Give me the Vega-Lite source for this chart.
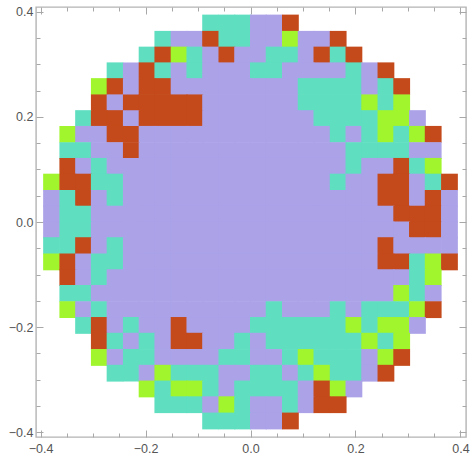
{"$schema":"https://vega.github.io/schema/vega-lite/v6.json","width":430,"height":430,"autosize":"none","padding":{"left":36,"top":7,"right":8,"bottom":20},"background":"white","config":{"view":{"stroke":"#b4b4b4","strokeWidth":1.4},"axis":{"grid":false,"domain":false,"title":null,"tickColor":"#a8a8a8","tickWidth":1,"labelFont":"Liberation Sans","labelFontSize":12.5,"labelColor":"#555555"}},"resolve":{"axis":{"x":"independent","y":"independent"}},"layer":[{"data":{"values":[
{"x":-0.076,"y":0.379,"k":"T"},{"x":-0.045,"y":0.379,"k":"T"},{"x":-0.015,"y":0.379,"k":"T"},{"x":0.015,"y":0.379,"k":"L"},{"x":0.045,"y":0.379,"k":"L"},{"x":0.076,"y":0.379,"k":"R"},
{"x":-0.167,"y":0.348,"k":"T"},{"x":-0.136,"y":0.348,"k":"L"},{"x":-0.106,"y":0.348,"k":"L"},{"x":-0.076,"y":0.348,"k":"R"},{"x":-0.045,"y":0.348,"k":"T"},{"x":-0.015,"y":0.348,"k":"T"},{"x":0.015,"y":0.348,"k":"L"},{"x":0.045,"y":0.348,"k":"L"},{"x":0.076,"y":0.348,"k":"G"},{"x":0.106,"y":0.348,"k":"L"},{"x":0.136,"y":0.348,"k":"L"},{"x":0.167,"y":0.348,"k":"R"},
{"x":-0.197,"y":0.318,"k":"T"},{"x":-0.167,"y":0.318,"k":"R"},{"x":-0.136,"y":0.318,"k":"G"},{"x":-0.106,"y":0.318,"k":"T"},{"x":-0.076,"y":0.318,"k":"L"},{"x":-0.045,"y":0.318,"k":"R"},{"x":-0.015,"y":0.318,"k":"L"},{"x":0.015,"y":0.318,"k":"L"},{"x":0.045,"y":0.318,"k":"T"},{"x":0.076,"y":0.318,"k":"T"},{"x":0.106,"y":0.318,"k":"L"},{"x":0.136,"y":0.318,"k":"R"},{"x":0.167,"y":0.318,"k":"T"},{"x":0.197,"y":0.318,"k":"R"},
{"x":-0.258,"y":0.288,"k":"T"},{"x":-0.227,"y":0.288,"k":"L"},{"x":-0.197,"y":0.288,"k":"R"},{"x":-0.167,"y":0.288,"k":"T"},{"x":-0.136,"y":0.288,"k":"L"},{"x":-0.106,"y":0.288,"k":"T"},{"x":-0.076,"y":0.288,"k":"L"},{"x":-0.045,"y":0.288,"k":"L"},{"x":-0.015,"y":0.288,"k":"L"},{"x":0.015,"y":0.288,"k":"T"},{"x":0.045,"y":0.288,"k":"T"},{"x":0.076,"y":0.288,"k":"L"},{"x":0.106,"y":0.288,"k":"L"},{"x":0.136,"y":0.288,"k":"L"},{"x":0.167,"y":0.288,"k":"L"},{"x":0.197,"y":0.288,"k":"T"},{"x":0.227,"y":0.288,"k":"L"},{"x":0.258,"y":0.288,"k":"R"},
{"x":-0.288,"y":0.258,"k":"G"},{"x":-0.258,"y":0.258,"k":"R"},{"x":-0.227,"y":0.258,"k":"L"},{"x":-0.197,"y":0.258,"k":"R"},{"x":-0.167,"y":0.258,"k":"R"},{"x":-0.136,"y":0.258,"k":"L"},{"x":-0.106,"y":0.258,"k":"L"},{"x":-0.076,"y":0.258,"k":"L"},{"x":-0.045,"y":0.258,"k":"L"},{"x":-0.015,"y":0.258,"k":"L"},{"x":0.015,"y":0.258,"k":"L"},{"x":0.045,"y":0.258,"k":"L"},{"x":0.076,"y":0.258,"k":"L"},{"x":0.106,"y":0.258,"k":"T"},{"x":0.136,"y":0.258,"k":"T"},{"x":0.167,"y":0.258,"k":"T"},{"x":0.197,"y":0.258,"k":"T"},{"x":0.227,"y":0.258,"k":"L"},{"x":0.258,"y":0.258,"k":"T"},{"x":0.288,"y":0.258,"k":"R"},
{"x":-0.288,"y":0.227,"k":"R"},{"x":-0.258,"y":0.227,"k":"L"},{"x":-0.227,"y":0.227,"k":"R"},{"x":-0.197,"y":0.227,"k":"R"},{"x":-0.167,"y":0.227,"k":"R"},{"x":-0.136,"y":0.227,"k":"R"},{"x":-0.106,"y":0.227,"k":"R"},{"x":-0.076,"y":0.227,"k":"L"},{"x":-0.045,"y":0.227,"k":"L"},{"x":-0.015,"y":0.227,"k":"L"},{"x":0.015,"y":0.227,"k":"L"},{"x":0.045,"y":0.227,"k":"L"},{"x":0.076,"y":0.227,"k":"L"},{"x":0.106,"y":0.227,"k":"T"},{"x":0.136,"y":0.227,"k":"T"},{"x":0.167,"y":0.227,"k":"T"},{"x":0.197,"y":0.227,"k":"T"},{"x":0.227,"y":0.227,"k":"G"},{"x":0.258,"y":0.227,"k":"T"},{"x":0.288,"y":0.227,"k":"G"},
{"x":-0.318,"y":0.197,"k":"T"},{"x":-0.288,"y":0.197,"k":"R"},{"x":-0.258,"y":0.197,"k":"R"},{"x":-0.227,"y":0.197,"k":"L"},{"x":-0.197,"y":0.197,"k":"R"},{"x":-0.167,"y":0.197,"k":"R"},{"x":-0.136,"y":0.197,"k":"R"},{"x":-0.106,"y":0.197,"k":"R"},{"x":-0.076,"y":0.197,"k":"L"},{"x":-0.045,"y":0.197,"k":"L"},{"x":-0.015,"y":0.197,"k":"L"},{"x":0.015,"y":0.197,"k":"L"},{"x":0.045,"y":0.197,"k":"L"},{"x":0.076,"y":0.197,"k":"L"},{"x":0.106,"y":0.197,"k":"L"},{"x":0.136,"y":0.197,"k":"T"},{"x":0.167,"y":0.197,"k":"T"},{"x":0.197,"y":0.197,"k":"T"},{"x":0.227,"y":0.197,"k":"T"},{"x":0.258,"y":0.197,"k":"G"},{"x":0.288,"y":0.197,"k":"G"},{"x":0.318,"y":0.197,"k":"L"},
{"x":-0.348,"y":0.167,"k":"G"},{"x":-0.318,"y":0.167,"k":"L"},{"x":-0.288,"y":0.167,"k":"L"},{"x":-0.258,"y":0.167,"k":"R"},{"x":-0.227,"y":0.167,"k":"R"},{"x":-0.197,"y":0.167,"k":"L"},{"x":-0.167,"y":0.167,"k":"L"},{"x":-0.136,"y":0.167,"k":"L"},{"x":-0.106,"y":0.167,"k":"L"},{"x":-0.076,"y":0.167,"k":"L"},{"x":-0.045,"y":0.167,"k":"L"},{"x":-0.015,"y":0.167,"k":"L"},{"x":0.015,"y":0.167,"k":"L"},{"x":0.045,"y":0.167,"k":"L"},{"x":0.076,"y":0.167,"k":"L"},{"x":0.106,"y":0.167,"k":"L"},{"x":0.136,"y":0.167,"k":"L"},{"x":0.167,"y":0.167,"k":"T"},{"x":0.197,"y":0.167,"k":"L"},{"x":0.227,"y":0.167,"k":"T"},{"x":0.258,"y":0.167,"k":"G"},{"x":0.288,"y":0.167,"k":"T"},{"x":0.318,"y":0.167,"k":"G"},{"x":0.348,"y":0.167,"k":"R"},
{"x":-0.348,"y":0.136,"k":"T"},{"x":-0.318,"y":0.136,"k":"T"},{"x":-0.288,"y":0.136,"k":"L"},{"x":-0.258,"y":0.136,"k":"L"},{"x":-0.227,"y":0.136,"k":"R"},{"x":-0.197,"y":0.136,"k":"L"},{"x":-0.167,"y":0.136,"k":"L"},{"x":-0.136,"y":0.136,"k":"L"},{"x":-0.106,"y":0.136,"k":"L"},{"x":-0.076,"y":0.136,"k":"L"},{"x":-0.045,"y":0.136,"k":"L"},{"x":-0.015,"y":0.136,"k":"L"},{"x":0.015,"y":0.136,"k":"L"},{"x":0.045,"y":0.136,"k":"L"},{"x":0.076,"y":0.136,"k":"L"},{"x":0.106,"y":0.136,"k":"L"},{"x":0.136,"y":0.136,"k":"L"},{"x":0.167,"y":0.136,"k":"L"},{"x":0.197,"y":0.136,"k":"T"},{"x":0.227,"y":0.136,"k":"T"},{"x":0.258,"y":0.136,"k":"T"},{"x":0.288,"y":0.136,"k":"T"},{"x":0.318,"y":0.136,"k":"L"},{"x":0.348,"y":0.136,"k":"L"},
{"x":-0.348,"y":0.106,"k":"R"},{"x":-0.318,"y":0.106,"k":"L"},{"x":-0.288,"y":0.106,"k":"T"},{"x":-0.258,"y":0.106,"k":"L"},{"x":-0.227,"y":0.106,"k":"L"},{"x":-0.197,"y":0.106,"k":"L"},{"x":-0.167,"y":0.106,"k":"L"},{"x":-0.136,"y":0.106,"k":"L"},{"x":-0.106,"y":0.106,"k":"L"},{"x":-0.076,"y":0.106,"k":"L"},{"x":-0.045,"y":0.106,"k":"L"},{"x":-0.015,"y":0.106,"k":"L"},{"x":0.015,"y":0.106,"k":"L"},{"x":0.045,"y":0.106,"k":"L"},{"x":0.076,"y":0.106,"k":"L"},{"x":0.106,"y":0.106,"k":"L"},{"x":0.136,"y":0.106,"k":"L"},{"x":0.167,"y":0.106,"k":"L"},{"x":0.197,"y":0.106,"k":"T"},{"x":0.227,"y":0.106,"k":"L"},{"x":0.258,"y":0.106,"k":"L"},{"x":0.288,"y":0.106,"k":"R"},{"x":0.318,"y":0.106,"k":"T"},{"x":0.348,"y":0.106,"k":"G"},
{"x":-0.379,"y":0.076,"k":"G"},{"x":-0.348,"y":0.076,"k":"R"},{"x":-0.318,"y":0.076,"k":"R"},{"x":-0.288,"y":0.076,"k":"T"},{"x":-0.258,"y":0.076,"k":"T"},{"x":-0.227,"y":0.076,"k":"L"},{"x":-0.197,"y":0.076,"k":"L"},{"x":-0.167,"y":0.076,"k":"L"},{"x":-0.136,"y":0.076,"k":"L"},{"x":-0.106,"y":0.076,"k":"L"},{"x":-0.076,"y":0.076,"k":"L"},{"x":-0.045,"y":0.076,"k":"L"},{"x":-0.015,"y":0.076,"k":"L"},{"x":0.015,"y":0.076,"k":"L"},{"x":0.045,"y":0.076,"k":"L"},{"x":0.076,"y":0.076,"k":"L"},{"x":0.106,"y":0.076,"k":"L"},{"x":0.136,"y":0.076,"k":"L"},{"x":0.167,"y":0.076,"k":"T"},{"x":0.197,"y":0.076,"k":"L"},{"x":0.227,"y":0.076,"k":"L"},{"x":0.258,"y":0.076,"k":"R"},{"x":0.288,"y":0.076,"k":"R"},{"x":0.318,"y":0.076,"k":"L"},{"x":0.348,"y":0.076,"k":"T"},{"x":0.379,"y":0.076,"k":"R"},
{"x":-0.379,"y":0.045,"k":"L"},{"x":-0.348,"y":0.045,"k":"T"},{"x":-0.318,"y":0.045,"k":"R"},{"x":-0.288,"y":0.045,"k":"L"},{"x":-0.258,"y":0.045,"k":"T"},{"x":-0.227,"y":0.045,"k":"L"},{"x":-0.197,"y":0.045,"k":"L"},{"x":-0.167,"y":0.045,"k":"L"},{"x":-0.136,"y":0.045,"k":"L"},{"x":-0.106,"y":0.045,"k":"L"},{"x":-0.076,"y":0.045,"k":"L"},{"x":-0.045,"y":0.045,"k":"L"},{"x":-0.015,"y":0.045,"k":"L"},{"x":0.015,"y":0.045,"k":"L"},{"x":0.045,"y":0.045,"k":"L"},{"x":0.076,"y":0.045,"k":"L"},{"x":0.106,"y":0.045,"k":"L"},{"x":0.136,"y":0.045,"k":"L"},{"x":0.167,"y":0.045,"k":"L"},{"x":0.197,"y":0.045,"k":"L"},{"x":0.227,"y":0.045,"k":"L"},{"x":0.258,"y":0.045,"k":"R"},{"x":0.288,"y":0.045,"k":"R"},{"x":0.318,"y":0.045,"k":"L"},{"x":0.348,"y":0.045,"k":"R"},{"x":0.379,"y":0.045,"k":"L"},
{"x":-0.379,"y":0.015,"k":"L"},{"x":-0.348,"y":0.015,"k":"T"},{"x":-0.318,"y":0.015,"k":"T"},{"x":-0.288,"y":0.015,"k":"L"},{"x":-0.258,"y":0.015,"k":"L"},{"x":-0.227,"y":0.015,"k":"L"},{"x":-0.197,"y":0.015,"k":"L"},{"x":-0.167,"y":0.015,"k":"L"},{"x":-0.136,"y":0.015,"k":"L"},{"x":-0.106,"y":0.015,"k":"L"},{"x":-0.076,"y":0.015,"k":"L"},{"x":-0.045,"y":0.015,"k":"L"},{"x":-0.015,"y":0.015,"k":"L"},{"x":0.015,"y":0.015,"k":"L"},{"x":0.045,"y":0.015,"k":"L"},{"x":0.076,"y":0.015,"k":"L"},{"x":0.106,"y":0.015,"k":"L"},{"x":0.136,"y":0.015,"k":"L"},{"x":0.167,"y":0.015,"k":"L"},{"x":0.197,"y":0.015,"k":"L"},{"x":0.227,"y":0.015,"k":"L"},{"x":0.258,"y":0.015,"k":"L"},{"x":0.288,"y":0.015,"k":"R"},{"x":0.318,"y":0.015,"k":"R"},{"x":0.348,"y":0.015,"k":"R"},{"x":0.379,"y":0.015,"k":"L"},
{"x":-0.379,"y":-0.015,"k":"L"},{"x":-0.348,"y":-0.015,"k":"T"},{"x":-0.318,"y":-0.015,"k":"T"},{"x":-0.288,"y":-0.015,"k":"L"},{"x":-0.258,"y":-0.015,"k":"L"},{"x":-0.227,"y":-0.015,"k":"L"},{"x":-0.197,"y":-0.015,"k":"L"},{"x":-0.167,"y":-0.015,"k":"L"},{"x":-0.136,"y":-0.015,"k":"L"},{"x":-0.106,"y":-0.015,"k":"L"},{"x":-0.076,"y":-0.015,"k":"L"},{"x":-0.045,"y":-0.015,"k":"L"},{"x":-0.015,"y":-0.015,"k":"L"},{"x":0.015,"y":-0.015,"k":"L"},{"x":0.045,"y":-0.015,"k":"L"},{"x":0.076,"y":-0.015,"k":"L"},{"x":0.106,"y":-0.015,"k":"L"},{"x":0.136,"y":-0.015,"k":"L"},{"x":0.167,"y":-0.015,"k":"L"},{"x":0.197,"y":-0.015,"k":"L"},{"x":0.227,"y":-0.015,"k":"L"},{"x":0.258,"y":-0.015,"k":"L"},{"x":0.288,"y":-0.015,"k":"L"},{"x":0.318,"y":-0.015,"k":"R"},{"x":0.348,"y":-0.015,"k":"R"},{"x":0.379,"y":-0.015,"k":"L"},
{"x":-0.379,"y":-0.045,"k":"T"},{"x":-0.348,"y":-0.045,"k":"T"},{"x":-0.318,"y":-0.045,"k":"R"},{"x":-0.288,"y":-0.045,"k":"L"},{"x":-0.258,"y":-0.045,"k":"T"},{"x":-0.227,"y":-0.045,"k":"L"},{"x":-0.197,"y":-0.045,"k":"L"},{"x":-0.167,"y":-0.045,"k":"L"},{"x":-0.136,"y":-0.045,"k":"L"},{"x":-0.106,"y":-0.045,"k":"L"},{"x":-0.076,"y":-0.045,"k":"L"},{"x":-0.045,"y":-0.045,"k":"L"},{"x":-0.015,"y":-0.045,"k":"L"},{"x":0.015,"y":-0.045,"k":"L"},{"x":0.045,"y":-0.045,"k":"L"},{"x":0.076,"y":-0.045,"k":"L"},{"x":0.106,"y":-0.045,"k":"L"},{"x":0.136,"y":-0.045,"k":"L"},{"x":0.167,"y":-0.045,"k":"L"},{"x":0.197,"y":-0.045,"k":"L"},{"x":0.227,"y":-0.045,"k":"L"},{"x":0.258,"y":-0.045,"k":"R"},{"x":0.288,"y":-0.045,"k":"L"},{"x":0.318,"y":-0.045,"k":"L"},{"x":0.348,"y":-0.045,"k":"L"},{"x":0.379,"y":-0.045,"k":"L"},
{"x":-0.379,"y":-0.076,"k":"G"},{"x":-0.348,"y":-0.076,"k":"R"},{"x":-0.318,"y":-0.076,"k":"L"},{"x":-0.288,"y":-0.076,"k":"T"},{"x":-0.258,"y":-0.076,"k":"T"},{"x":-0.227,"y":-0.076,"k":"L"},{"x":-0.197,"y":-0.076,"k":"L"},{"x":-0.167,"y":-0.076,"k":"L"},{"x":-0.136,"y":-0.076,"k":"L"},{"x":-0.106,"y":-0.076,"k":"L"},{"x":-0.076,"y":-0.076,"k":"L"},{"x":-0.045,"y":-0.076,"k":"L"},{"x":-0.015,"y":-0.076,"k":"L"},{"x":0.015,"y":-0.076,"k":"L"},{"x":0.045,"y":-0.076,"k":"L"},{"x":0.076,"y":-0.076,"k":"L"},{"x":0.106,"y":-0.076,"k":"L"},{"x":0.136,"y":-0.076,"k":"L"},{"x":0.167,"y":-0.076,"k":"L"},{"x":0.197,"y":-0.076,"k":"L"},{"x":0.227,"y":-0.076,"k":"L"},{"x":0.258,"y":-0.076,"k":"R"},{"x":0.288,"y":-0.076,"k":"R"},{"x":0.318,"y":-0.076,"k":"T"},{"x":0.348,"y":-0.076,"k":"G"},{"x":0.379,"y":-0.076,"k":"R"},
{"x":-0.348,"y":-0.106,"k":"R"},{"x":-0.318,"y":-0.106,"k":"L"},{"x":-0.288,"y":-0.106,"k":"T"},{"x":-0.258,"y":-0.106,"k":"L"},{"x":-0.227,"y":-0.106,"k":"L"},{"x":-0.197,"y":-0.106,"k":"L"},{"x":-0.167,"y":-0.106,"k":"L"},{"x":-0.136,"y":-0.106,"k":"L"},{"x":-0.106,"y":-0.106,"k":"L"},{"x":-0.076,"y":-0.106,"k":"L"},{"x":-0.045,"y":-0.106,"k":"L"},{"x":-0.015,"y":-0.106,"k":"L"},{"x":0.015,"y":-0.106,"k":"L"},{"x":0.045,"y":-0.106,"k":"L"},{"x":0.076,"y":-0.106,"k":"L"},{"x":0.106,"y":-0.106,"k":"L"},{"x":0.136,"y":-0.106,"k":"L"},{"x":0.167,"y":-0.106,"k":"L"},{"x":0.197,"y":-0.106,"k":"L"},{"x":0.227,"y":-0.106,"k":"L"},{"x":0.258,"y":-0.106,"k":"L"},{"x":0.288,"y":-0.106,"k":"L"},{"x":0.318,"y":-0.106,"k":"T"},{"x":0.348,"y":-0.106,"k":"G"},
{"x":-0.348,"y":-0.136,"k":"T"},{"x":-0.318,"y":-0.136,"k":"T"},{"x":-0.288,"y":-0.136,"k":"L"},{"x":-0.258,"y":-0.136,"k":"L"},{"x":-0.227,"y":-0.136,"k":"L"},{"x":-0.197,"y":-0.136,"k":"L"},{"x":-0.167,"y":-0.136,"k":"L"},{"x":-0.136,"y":-0.136,"k":"L"},{"x":-0.106,"y":-0.136,"k":"L"},{"x":-0.076,"y":-0.136,"k":"L"},{"x":-0.045,"y":-0.136,"k":"L"},{"x":-0.015,"y":-0.136,"k":"L"},{"x":0.015,"y":-0.136,"k":"L"},{"x":0.045,"y":-0.136,"k":"L"},{"x":0.076,"y":-0.136,"k":"L"},{"x":0.106,"y":-0.136,"k":"L"},{"x":0.136,"y":-0.136,"k":"L"},{"x":0.167,"y":-0.136,"k":"L"},{"x":0.197,"y":-0.136,"k":"L"},{"x":0.227,"y":-0.136,"k":"L"},{"x":0.258,"y":-0.136,"k":"L"},{"x":0.288,"y":-0.136,"k":"G"},{"x":0.318,"y":-0.136,"k":"T"},{"x":0.348,"y":-0.136,"k":"L"},
{"x":-0.348,"y":-0.167,"k":"G"},{"x":-0.318,"y":-0.167,"k":"L"},{"x":-0.288,"y":-0.167,"k":"T"},{"x":-0.258,"y":-0.167,"k":"L"},{"x":-0.227,"y":-0.167,"k":"L"},{"x":-0.197,"y":-0.167,"k":"L"},{"x":-0.167,"y":-0.167,"k":"L"},{"x":-0.136,"y":-0.167,"k":"L"},{"x":-0.106,"y":-0.167,"k":"L"},{"x":-0.076,"y":-0.167,"k":"L"},{"x":-0.045,"y":-0.167,"k":"L"},{"x":-0.015,"y":-0.167,"k":"L"},{"x":0.015,"y":-0.167,"k":"L"},{"x":0.045,"y":-0.167,"k":"T"},{"x":0.076,"y":-0.167,"k":"L"},{"x":0.106,"y":-0.167,"k":"L"},{"x":0.136,"y":-0.167,"k":"L"},{"x":0.167,"y":-0.167,"k":"T"},{"x":0.197,"y":-0.167,"k":"L"},{"x":0.227,"y":-0.167,"k":"T"},{"x":0.258,"y":-0.167,"k":"T"},{"x":0.288,"y":-0.167,"k":"T"},{"x":0.318,"y":-0.167,"k":"G"},{"x":0.348,"y":-0.167,"k":"R"},
{"x":-0.318,"y":-0.197,"k":"T"},{"x":-0.288,"y":-0.197,"k":"R"},{"x":-0.258,"y":-0.197,"k":"L"},{"x":-0.227,"y":-0.197,"k":"T"},{"x":-0.197,"y":-0.197,"k":"L"},{"x":-0.167,"y":-0.197,"k":"L"},{"x":-0.136,"y":-0.197,"k":"R"},{"x":-0.106,"y":-0.197,"k":"L"},{"x":-0.076,"y":-0.197,"k":"L"},{"x":-0.045,"y":-0.197,"k":"L"},{"x":-0.015,"y":-0.197,"k":"L"},{"x":0.015,"y":-0.197,"k":"T"},{"x":0.045,"y":-0.197,"k":"T"},{"x":0.076,"y":-0.197,"k":"T"},{"x":0.106,"y":-0.197,"k":"T"},{"x":0.136,"y":-0.197,"k":"T"},{"x":0.167,"y":-0.197,"k":"T"},{"x":0.197,"y":-0.197,"k":"G"},{"x":0.227,"y":-0.197,"k":"T"},{"x":0.258,"y":-0.197,"k":"G"},{"x":0.288,"y":-0.197,"k":"G"},{"x":0.318,"y":-0.197,"k":"L"},
{"x":-0.288,"y":-0.227,"k":"R"},{"x":-0.258,"y":-0.227,"k":"T"},{"x":-0.227,"y":-0.227,"k":"L"},{"x":-0.197,"y":-0.227,"k":"T"},{"x":-0.167,"y":-0.227,"k":"L"},{"x":-0.136,"y":-0.227,"k":"R"},{"x":-0.106,"y":-0.227,"k":"R"},{"x":-0.076,"y":-0.227,"k":"L"},{"x":-0.045,"y":-0.227,"k":"L"},{"x":-0.015,"y":-0.227,"k":"T"},{"x":0.015,"y":-0.227,"k":"L"},{"x":0.045,"y":-0.227,"k":"T"},{"x":0.076,"y":-0.227,"k":"T"},{"x":0.106,"y":-0.227,"k":"T"},{"x":0.136,"y":-0.227,"k":"T"},{"x":0.167,"y":-0.227,"k":"T"},{"x":0.197,"y":-0.227,"k":"T"},{"x":0.227,"y":-0.227,"k":"G"},{"x":0.258,"y":-0.227,"k":"T"},{"x":0.288,"y":-0.227,"k":"G"},
{"x":-0.288,"y":-0.258,"k":"G"},{"x":-0.258,"y":-0.258,"k":"L"},{"x":-0.227,"y":-0.258,"k":"T"},{"x":-0.197,"y":-0.258,"k":"T"},{"x":-0.167,"y":-0.258,"k":"L"},{"x":-0.136,"y":-0.258,"k":"L"},{"x":-0.106,"y":-0.258,"k":"L"},{"x":-0.076,"y":-0.258,"k":"L"},{"x":-0.045,"y":-0.258,"k":"T"},{"x":-0.015,"y":-0.258,"k":"T"},{"x":0.015,"y":-0.258,"k":"L"},{"x":0.045,"y":-0.258,"k":"L"},{"x":0.076,"y":-0.258,"k":"T"},{"x":0.106,"y":-0.258,"k":"G"},{"x":0.136,"y":-0.258,"k":"T"},{"x":0.167,"y":-0.258,"k":"T"},{"x":0.197,"y":-0.258,"k":"T"},{"x":0.227,"y":-0.258,"k":"L"},{"x":0.258,"y":-0.258,"k":"G"},{"x":0.288,"y":-0.258,"k":"R"},
{"x":-0.258,"y":-0.288,"k":"T"},{"x":-0.227,"y":-0.288,"k":"T"},{"x":-0.197,"y":-0.288,"k":"L"},{"x":-0.167,"y":-0.288,"k":"G"},{"x":-0.136,"y":-0.288,"k":"T"},{"x":-0.106,"y":-0.288,"k":"T"},{"x":-0.076,"y":-0.288,"k":"T"},{"x":-0.045,"y":-0.288,"k":"L"},{"x":-0.015,"y":-0.288,"k":"L"},{"x":0.015,"y":-0.288,"k":"T"},{"x":0.045,"y":-0.288,"k":"T"},{"x":0.076,"y":-0.288,"k":"L"},{"x":0.106,"y":-0.288,"k":"T"},{"x":0.136,"y":-0.288,"k":"G"},{"x":0.167,"y":-0.288,"k":"T"},{"x":0.197,"y":-0.288,"k":"T"},{"x":0.227,"y":-0.288,"k":"L"},{"x":0.258,"y":-0.288,"k":"R"},
{"x":-0.197,"y":-0.318,"k":"G"},{"x":-0.167,"y":-0.318,"k":"T"},{"x":-0.136,"y":-0.318,"k":"G"},{"x":-0.106,"y":-0.318,"k":"G"},{"x":-0.076,"y":-0.318,"k":"T"},{"x":-0.045,"y":-0.318,"k":"L"},{"x":-0.015,"y":-0.318,"k":"T"},{"x":0.015,"y":-0.318,"k":"T"},{"x":0.045,"y":-0.318,"k":"T"},{"x":0.076,"y":-0.318,"k":"T"},{"x":0.106,"y":-0.318,"k":"L"},{"x":0.136,"y":-0.318,"k":"R"},{"x":0.167,"y":-0.318,"k":"G"},{"x":0.197,"y":-0.318,"k":"L"},
{"x":-0.167,"y":-0.348,"k":"T"},{"x":-0.136,"y":-0.348,"k":"T"},{"x":-0.106,"y":-0.348,"k":"T"},{"x":-0.076,"y":-0.348,"k":"L"},{"x":-0.045,"y":-0.348,"k":"G"},{"x":-0.015,"y":-0.348,"k":"T"},{"x":0.015,"y":-0.348,"k":"L"},{"x":0.045,"y":-0.348,"k":"L"},{"x":0.076,"y":-0.348,"k":"T"},{"x":0.106,"y":-0.348,"k":"L"},{"x":0.136,"y":-0.348,"k":"R"},{"x":0.167,"y":-0.348,"k":"R"},
{"x":-0.076,"y":-0.379,"k":"T"},{"x":-0.045,"y":-0.379,"k":"T"},{"x":-0.015,"y":-0.379,"k":"T"},{"x":0.015,"y":-0.379,"k":"L"},{"x":0.045,"y":-0.379,"k":"L"},{"x":0.076,"y":-0.379,"k":"R"}
]},"mark":{"type":"rect","width":16.8,"height":16.8,"opacity":1},"encoding":{"x":{"field":"x","type":"quantitative","scale":{"domain":[-0.4086,0.4105],"nice":false,"zero":false},"axis":{"orient":"bottom","values":[-0.4,-0.2,0,0.2,0.4],"format":".1f","tickSize":-7,"labelPadding":12}},"y":{"field":"y","type":"quantitative","scale":{"domain":[-0.4095,0.4095],"nice":false,"zero":false},"axis":{"orient":"left","values":[-0.4,-0.2,0,0.2,0.4],"format":".1f","tickSize":-7,"labelPadding":10}},"color":{"field":"k","type":"nominal","legend":null,"scale":{"domain":["L","T","G","R"],"range":["#aba2e8","#5fdfc0","#a0f52d","#c44a1b"]}}}},
{"data":{"values":[{"x":0,"y":0}]},"mark":{"type":"point","opacity":0},"encoding":{"x":{"field":"x","type":"quantitative","axis":{"orient":"bottom","values":[-0.35,-0.3,-0.25,-0.15,-0.1,-0.05,0.05,0.1,0.15,0.25,0.3,0.35],"labels":false,"tickSize":-4}},"y":{"field":"y","type":"quantitative","axis":{"orient":"left","values":[-0.35,-0.3,-0.25,-0.15,-0.1,-0.05,0.05,0.1,0.15,0.25,0.3,0.35],"labels":false,"tickSize":-4}}}},
{"data":{"values":[{"x":0,"y":0}]},"mark":{"type":"point","opacity":0},"encoding":{"x":{"field":"x","type":"quantitative","axis":{"orient":"top","values":[-0.4,-0.2,0,0.2,0.4],"labels":false,"tickSize":-7}},"y":{"field":"y","type":"quantitative","axis":{"orient":"right","values":[-0.4,-0.2,0,0.2,0.4],"labels":false,"tickSize":-7}}}},
{"data":{"values":[{"x":0,"y":0}]},"mark":{"type":"point","opacity":0},"encoding":{"x":{"field":"x","type":"quantitative","axis":{"orient":"top","values":[-0.35,-0.3,-0.25,-0.15,-0.1,-0.05,0.05,0.1,0.15,0.25,0.3,0.35],"labels":false,"tickSize":-4}},"y":{"field":"y","type":"quantitative","axis":{"orient":"right","values":[-0.35,-0.3,-0.25,-0.15,-0.1,-0.05,0.05,0.1,0.15,0.25,0.3,0.35],"labels":false,"tickSize":-4}}}}
]}
